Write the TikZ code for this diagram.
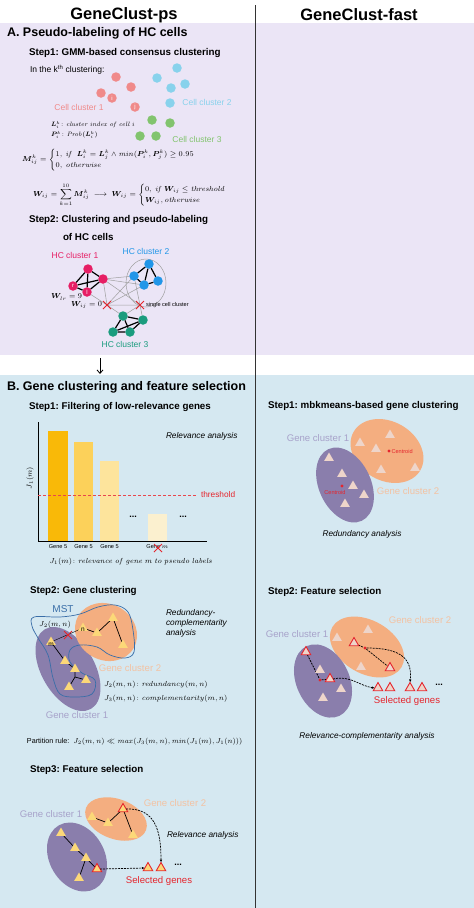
\RequirePackage{fix-cm}
\documentclass[tikz,border=0pt]{standalone}
\usepackage{amsmath}
\usepackage{bm}
\usepackage[no-math]{fontspec}
\setmainfont{Liberation Sans}
\usetikzlibrary{shapes.geometric,arrows.meta}
\pgfdeclarelayer{back}
\pgfdeclarelayer{edges}
\pgfsetlayers{back,edges,main}
\frenchspacing
\definecolor{lav}{HTML}{EBE5F6}
\definecolor{lblue}{HTML}{D5E8F1}
\definecolor{gpurple}{HTML}{8A7EAC}
\definecolor{gorange}{HTML}{F4AE80}
\definecolor{gyellow}{HTML}{FCD878}
\definecolor{gpale}{HTML}{EED5CA}
\definecolor{gred}{HTML}{E5252D}
\definecolor{txtpur}{HTML}{A7A2CA}
\definecolor{txtora}{HTML}{F3C2A2}
\definecolor{cred}{HTML}{F08A8A}
\definecolor{cblue}{HTML}{88D2EC}
\definecolor{cgreen}{HTML}{82C46E}
\definecolor{hcmag}{HTML}{E61E64}
\definecolor{hcblue}{HTML}{2196E8}
\definecolor{hcteal}{HTML}{1A9C7E}
\definecolor{barA}{HTML}{F9B908}
\definecolor{barB}{HTML}{FCD15A}
\definecolor{barC}{HTML}{FDE49C}
\definecolor{barD}{HTML}{FBF0CF}
\definecolor{mstblue}{HTML}{3A6EA8}
\begin{document}
\frenchspacing
\begin{tikzpicture}[x=1pt,y=-1pt,
  every node/.style={inner sep=0pt, outer sep=0pt},
  hdr/.style={font=\fontsize{16.5}{19}\selectfont\bfseries},
  sect/.style={font=\fontsize{12.5}{15}\selectfont\bfseries, anchor=west},
  stephd/.style={font=\fontsize{9.8}{12}\selectfont\bfseries\frenchspacing, anchor=west},
  txtsmall/.style={font=\fontsize{8.5}{10}\selectfont},
  gclab/.style={font=\fontsize{9.6}{11}\selectfont},
  anal/.style={font=\fontsize{8.3}{10}\selectfont\itshape},
  txttiny/.style={font=\fontsize{5.6}{6.5}\selectfont},
  mth/.style={font=\fontsize{7.3}{9}\selectfont},
  celldot/.style={circle, minimum size=9.5pt, font=\fontsize{6}{6}\selectfont, text=white},
  tri/.style={regular polygon, regular polygon sides=3, minimum size=11pt, fill=gyellow},
  ptri/.style={tri, fill=gpale},
  seltri/.style={tri, draw=gred, line width=0.9pt},
  pseltri/.style={seltri, fill=gpale},
  pell/.style={ellipse, fill=gpurple},
  oell/.style={ellipse, fill=gorange},
  hedge/.style={line width=1.2pt, black},
  gedge/.style={line width=0.5pt, gray!75},
  tedge/.style={line width=0.7pt, black},
  darr/.style={dashed, dash pattern=on 2pt off 1pt, line width=0.7pt, -{Latex[length=3pt,width=2.5pt]}},
  dln/.style={dashed, dash pattern=on 2pt off 1pt, line width=0.7pt},
  xm/.pic={\draw[gred, line width=0.9pt] (-4,-4) -- (4,4) (-4,4) -- (4,-4);}
]
\useasboundingbox (0,0) rectangle (474,908);
\begin{pgfonlayer}{back}
\fill[white] (0,0) rectangle (474,908);
\fill[lav] (0,23) rectangle (474,355);
\fill[lblue] (0,375) rectangle (474,908);
\node[pell, minimum width=92pt, minimum height=53pt, rotate=-60] (e2p) at (68,669) {};
\node[oell, minimum width=64pt, minimum height=56pt, rotate=-30] (e2o) at (106,632) {};
\node[oell, minimum width=64pt, minimum height=40pt, rotate=-20] (e3o) at (116,819) {};
\node[pell, minimum width=73pt, minimum height=55pt, rotate=-60] (e3p) at (77,857) {};
\node[oell, minimum width=77pt, minimum height=59pt, rotate=-30] (r1o) at (387,451) {};
\node[pell, minimum width=79pt, minimum height=52pt, rotate=-65] (r1p) at (345,485) {};
\node[oell, minimum width=80pt, minimum height=53pt, rotate=-30] (r2o) at (367,647) {};
\node[pell, minimum width=77pt, minimum height=53pt, rotate=-65] (r2p) at (323,681) {};
\end{pgfonlayer}
\draw[line width=0.8pt, black!80] (255,5) -- (255,908);
% headers
\node[hdr] (h1) at (124,15) {GeneClust-ps};
\node[hdr] (h2) at (359,15) {GeneClust-fast};
% ===== Section A
\node[sect] (secA) at (7,33) {A. Pseudo-labeling of HC cells};
\node[stephd] (a1) at (29,53) {Step1: GMM-based consensus clustering};
\node[txtsmall, anchor=west] (kth) at (30,70) {In the k\textsuperscript{th} clustering:};
\node[celldot, fill=cred] (cr1) at (116,77) {};
\node[celldot, fill=cred] (cr2) at (131,87) {};
\node[celldot, fill=cred] (cr3) at (101,93) {};
\node[celldot, fill=cred] (cri) at (112,98) {i};
\node[celldot, fill=cred] (crj) at (135,107) {j};
\node[celldot, fill=cblue] (cb1) at (177,68) {};
\node[celldot, fill=cblue] (cb2) at (157,78) {};
\node[celldot, fill=cblue] (cb3) at (185,84) {};
\node[celldot, fill=cblue] (cb4) at (171,88) {};
\node[celldot, fill=cblue] (cb5) at (170,103) {};
\node[celldot, fill=cgreen] (cg1) at (152,120) {};
\node[celldot, fill=cgreen] (cg2) at (170,123) {};
\node[celldot, fill=cgreen] (cg3) at (140,136) {};
\node[celldot, fill=cgreen] (cg4) at (156,136) {};
\node[txtsmall, text=cred] (cc1) at (79,107) {Cell cluster 1};
\node[txtsmall, text=cblue] (cc2) at (207,102) {Cell cluster 2};
\node[txtsmall, text=cgreen] (cc3) at (197,139) {Cell cluster 3};
\node[font=\fontsize{6.3}{7}\selectfont, anchor=west] (lf) at (51,125) {$\bm{L}_i^k\colon \mathit{cluster\ index\ of\ cell\ i}$};
\node[font=\fontsize{6.3}{7}\selectfont, anchor=west] (pf) at (51,135) {$\bm{P}_i^k\colon \mathit{Prob}(\bm{L}_i^k)$};
\node[mth, anchor=west] (mf) at (22,160) {$\bm{M}_{ij}^k=\begin{cases}1,\ \mathit{if}\ \ \bm{L}_i^k=\bm{L}_j^k\wedge \mathit{min}(\bm{P}_i^k,\bm{P}_j^k)\geq 0.95\\ 0,\ \mathit{otherwise}\end{cases}$};
\node[mth, anchor=west] (wf) at (33,195) {$\displaystyle\bm{W}_{ij}=\sum_{k=1}^{10}\bm{M}_{ij}^k\ \longrightarrow\ \bm{W}_{ij}=\begin{cases}0,\ \mathit{if}\ \bm{W}_{ij}\leq \mathit{threshold}\\ \bm{W}_{ij},\mathit{otherwise}\end{cases}$};
\node[stephd] (a2) at (29,220) {Step2: Clustering and pseudo-labeling};
\node[stephd] (a2b) at (63,237) {of HC cells};
% HC graph
\node[celldot, fill=hcmag] (m1) at (88,269) {};
\node[celldot, fill=hcmag] (m2) at (103,279) {};
\node[celldot, fill=hcmag] (mr) at (73,286) {r};
\node[celldot, fill=hcmag] (ml) at (87,292) {l};
\node[celldot, fill=hcblue] (b1) at (149,264) {};
\node[celldot, fill=hcblue] (b2) at (134,276) {};
\node[celldot, fill=hcblue] (b3) at (158,281) {};
\node[celldot, fill=hcblue] (b4) at (144,285) {};
\node[celldot, fill=hcteal] (t1) at (123,316) {};
\node[celldot, fill=hcteal] (t2) at (143,320) {};
\node[celldot, fill=hcteal] (t3) at (113,332) {};
\node[celldot, fill=hcteal] (t4) at (130,332) {};
\coordinate (x1) at (107,305);
\coordinate (x2) at (140,305);
\begin{pgfonlayer}{edges}
\draw[gedge] (146,283) ellipse [x radius=20, y radius=24];
\draw[gedge] (m2) -- (b2) (m2) -- (b4) (m2) -- (x1) (m2) -- (x2) (ml) -- (x1)
  (x1) -- (b2) (x1) -- (b4) (x2) -- (b2) (x1) -- (x2) (x1) -- (t1) (x2) -- (t1) (x2) -- (t2);
\draw[hedge] (m1) -- (m2) (m1) -- (mr) (m1) -- (ml) (m2) -- (mr) (m2) -- (ml) (mr) -- (ml);
\draw[hedge] (b1) -- (b2) (b1) -- (b3) (b1) -- (b4) (b2) -- (b4) (b3) -- (b4);
\draw[hedge] (t1) -- (t2) (t1) -- (t3) (t1) -- (t4) (t2) -- (t3) (t2) -- (t4) (t3) -- (t4);
\end{pgfonlayer}
\pic at (x1) {xm};
\pic at (x2) {xm};
\node[txtsmall, text=hcmag] (hc1) at (75,255) {HC cluster 1};
\node[txtsmall, text=hcblue] (hc2) at (146,251) {HC cluster 2};
\node[txtsmall, text=hcteal] (hc3) at (125,344) {HC cluster 3};
\node[mth, anchor=east] (wlr) at (82,297) {$\bm{W}_{lr}=9$};
\node[mth, anchor=east] (wij) at (102,305) {$\bm{W}_{ij}=0$};
\node[txttiny, anchor=west] (scc) at (146,305) {single cell cluster};
% arrow A -> B
\coordinate (arrS) at (100,358);
\coordinate (arrE) at (100,374);
\draw[line width=0.8pt, -{Straight Barb[length=3.5pt,width=6pt]}] (arrS) -- (arrE);
% ===== Section B
\node[sect] (secB) at (7,387) {B. Gene clustering and feature selection};
\node[stephd] (b1h) at (29,407) {Step1: Filtering of low-relevance genes};
\fill[barA] (48,431) rectangle (68,541);
\fill[barB] (74,442) rectangle (93,541);
\fill[barC] (100,461) rectangle (119,541);
\fill[barD] (148,514) rectangle (167,541);
\draw[line width=0.8pt] (38,422) -- (38,541) -- (207,541);
\draw[gred!85, dashed, dash pattern=on 3pt off 2pt, line width=0.8pt] (38,495) -- (197,495);
\node[font=\fontsize{8.3}{10}\selectfont, text=gred, anchor=west] (thr) at (201,495) {threshold};
\node[font=\fontsize{9}{10}\selectfont\bfseries] (dd1) at (133,517) {...};
\node[font=\fontsize{9}{10}\selectfont\bfseries] (dd2) at (183,517) {...};
\node[txttiny] (g1) at (58,547) {Gene 5};
\node[txttiny] (g2) at (83.5,547) {Gene 5};
\node[txttiny] (g3) at (109.5,547) {Gene 5};
\node[txttiny] (gm) at (157.5,547) {Gene $m$};
\pic at (158,548) {xm};
\node[mth, rotate=90] (jax) at (30,478) {$J_1(m)$};
\node[anal, anchor=west] (rel1) at (166,436) {Relevance analysis};
\node[mth] (jcap) at (131,562) {$J_1(m)\colon \mathit{relevance\ of\ gene}\ m\ \mathit{to\ pseudo\ labels}$};
% Step2 gene clustering
\node[stephd] (b2h) at (30,591) {Step2: Gene clustering};
\begin{pgfonlayer}{edges}
\draw[mstblue, line width=0.7pt] plot[smooth cycle, tension=0.6] coordinates {(34,617) (60,617) (80,614) (98,607) (115,605) (128,612) (133,630) (134,652) (125,658) (110,655) (97,647) (80,645) (70,650) (70,662) (82,673) (95,680) (92,694) (75,697) (60,694) (53,678) (48,655) (38,638) (32,626)};
\end{pgfonlayer}
\node[tri] (o2n) at (83,628) {};
\node[tri] (o2a) at (97,633) {};
\node[tri] (o2b) at (113,618) {};
\node[tri] (o2c) at (123,645) {};
\node[tri] (p2m) at (51,642) {};
\node[tri] (p2a) at (65,661) {};
\node[tri] (p2b) at (75,669) {};
\node[tri] (p2c) at (86,680) {};
\node[tri] (p2d) at (69,687) {};
\coordinate (p2j) at (75,677);
\begin{pgfonlayer}{edges}
\draw[tedge] (o2n) -- (o2a) (o2a) -- (o2b) (o2b) -- (o2c);
\draw[tedge] (p2m) -- (p2a) (p2a) -- (p2b) (p2b) -- (p2j) (p2j) -- (p2c) (p2j) -- (p2d);
\draw[line width=0.4pt] (p2m) -- (o2n);
\end{pgfonlayer}
\pic at (68,635) {xm};
\node[font=\fontsize{6.5}{7}\selectfont] (lbm) at (51,645) {m};
\node[font=\fontsize{6.5}{7}\selectfont] (lbn) at (83,630) {n};
\node[font=\fontsize{10}{12}\selectfont, text=mstblue] (mst) at (63,609) {MST};
\node[mth] (j2l) at (55,625) {$J_2(m,n)$};
\node[gclab, text=txtora] (gc2a) at (130,668) {Gene cluster 2};
\node[gclab, text=txtpur] (gc1a) at (77,715) {Gene cluster 1};
\node[anal, anchor=north west, align=left, font=\fontsize{8.3}{10}\selectfont\itshape] (rca) at (166,609) {Redundancy-\\complementarity\\analysis};
\node[mth, anchor=west] (j2d) at (104,685) {$J_2(m,n)\colon \mathit{redundancy}(m,n)$};
\node[mth, anchor=west] (j3d) at (104,699) {$J_3(m,n)\colon \mathit{complementarity}(m,n)$};
\node[anchor=west, font=\fontsize{7.2}{9}\selectfont] (prule) at (27,742) {Partition rule: \ $J_2(m,n)\ll \mathit{max}(J_3(m,n),\mathit{min}(J_1(m),J_1(n)))$};
% Step3 feature selection
\node[stephd] (b3h) at (30,770) {Step3: Feature selection};
\node[tri] (o3a) at (92,817) {};
\node[tri] (o3b) at (108,823) {};
\node[seltri] (o3s) at (123,809) {};
\node[tri] (o3c) at (133,835) {};
\node[tri] (p3a) at (61,833) {};
\node[tri] (p3b) at (75,848) {};
\node[tri] (p3c) at (86,858) {};
\node[tri] (p3d) at (79,878) {};
\node[seltri] (p3s) at (97,869) {};
\node[seltri] (s1) at (148,868) {};
\node[seltri] (s2) at (161,868) {};
\begin{pgfonlayer}{edges}
\draw[tedge] (o3a) -- (o3b) (o3b) -- (o3s) (o3s) -- (o3c);
\draw[tedge] (p3a) -- (p3b) (p3b) -- (p3c) (p3c) -- (p3s) (p3c) -- (p3d);
\end{pgfonlayer}
\draw[darr] (p3s.east) -- (s1.west);
\draw[darr] (o3s.east) .. controls (155,808) and (161,830) .. (s2.north);
\node[font=\fontsize{9}{10}\selectfont\bfseries] (dd3) at (178,865) {...};
\node[gclab, text=gred] (selL) at (159,881) {Selected genes};
\node[gclab, text=txtora] (gc2b) at (175,803) {Gene cluster 2};
\node[gclab, text=txtpur] (gc1b) at (51,814) {Gene cluster 1};
\node[anal, anchor=west] (rel2) at (167,835) {Relevance analysis};
% ===== Right: Step1
\node[stephd] (f1h) at (268,406) {Step1: mbkmeans-based gene clustering};
\node[ptri] (r1a) at (390,435) {};
\node[ptri] (r1b) at (360,443) {};
\node[ptri] (r1c) at (376,449) {};
\node[ptri] (r1d) at (381,470) {};
\node[ptri] (r1e) at (415,468) {};
\node[ptri] (q1a) at (329,458) {};
\node[ptri] (q1b) at (342,474) {};
\node[ptri] (q1c) at (353,486) {};
\node[ptri] (q1d) at (364,495) {};
\node[ptri] (q1e) at (345,504) {};
\node[circle, fill=gred, minimum size=3.2pt] (cen1) at (389,451) {};
\node[circle, fill=gred, minimum size=3.2pt] (cen2) at (342,486) {};
\node[txttiny, text=gred, anchor=west] (cent1) at (391.5,451) {Centroid};
\node[txttiny, text=gred] (cent2) at (335,492) {Centroid};
\node[gclab, text=txtpur] (gc1c) at (318,438) {Gene cluster 1};
\node[gclab, text=txtora] (gc2c) at (408,491) {Gene cluster 2};
\node[anal] (red1) at (362,534) {Redundancy analysis};
% ===== Right: Step2
\node[stephd] (f2h) at (268,592) {Step2: Feature selection};
\node[ptri] (r2a) at (337,638) {};
\node[ptri] (r2b) at (368,630) {};
\node[ptri] (r2c) at (361,667) {};
\node[pseltri] (r2s) at (354,643) {};
\node[pseltri] (r2t) at (390,668) {};
\node[ptri] (q2a) at (320,670) {};
\node[ptri] (q2b) at (341,689) {};
\node[ptri] (q2c) at (323,698) {};
\node[pseltri] (q2s) at (306,652) {};
\node[pseltri] (q2t) at (330,679) {};
\node[circle, fill=gred, minimum size=3.2pt] (rd1) at (365,648) {};
\node[circle, fill=gred, minimum size=3.2pt] (rd2) at (320,680) {};
\begin{pgfonlayer}{edges}
\draw[dln] (r2s) -- (rd1) -- (r2t);
\draw[dln] (q2s) -- (rd2) -- (q2t);
\end{pgfonlayer}
\node[pseltri] (rs1) at (378,688) {};
\node[pseltri] (rs2) at (390,688) {};
\node[pseltri] (rs3) at (410,688) {};
\node[pseltri] (rs4) at (422,688) {};
\node[font=\fontsize{9}{10}\selectfont\bfseries] (dd4) at (439,685) {...};
\draw[darr] (q2t.east) .. controls (350,675) and (360,686) .. (rs1.west);
\draw[darr] (rd1.east) .. controls (395,648) and (413,655) .. (rs3.north);
\node[gclab, text=gred] (selR) at (407,701) {Selected genes};
\node[gclab, text=txtora] (gc2d) at (420,620) {Gene cluster 2};
\node[gclab, text=txtpur] (gc1d) at (297,634) {Gene cluster 1};
\node[anal] (rca2) at (367,736) {Relevance-complementarity analysis};
\end{tikzpicture}
\end{document}
